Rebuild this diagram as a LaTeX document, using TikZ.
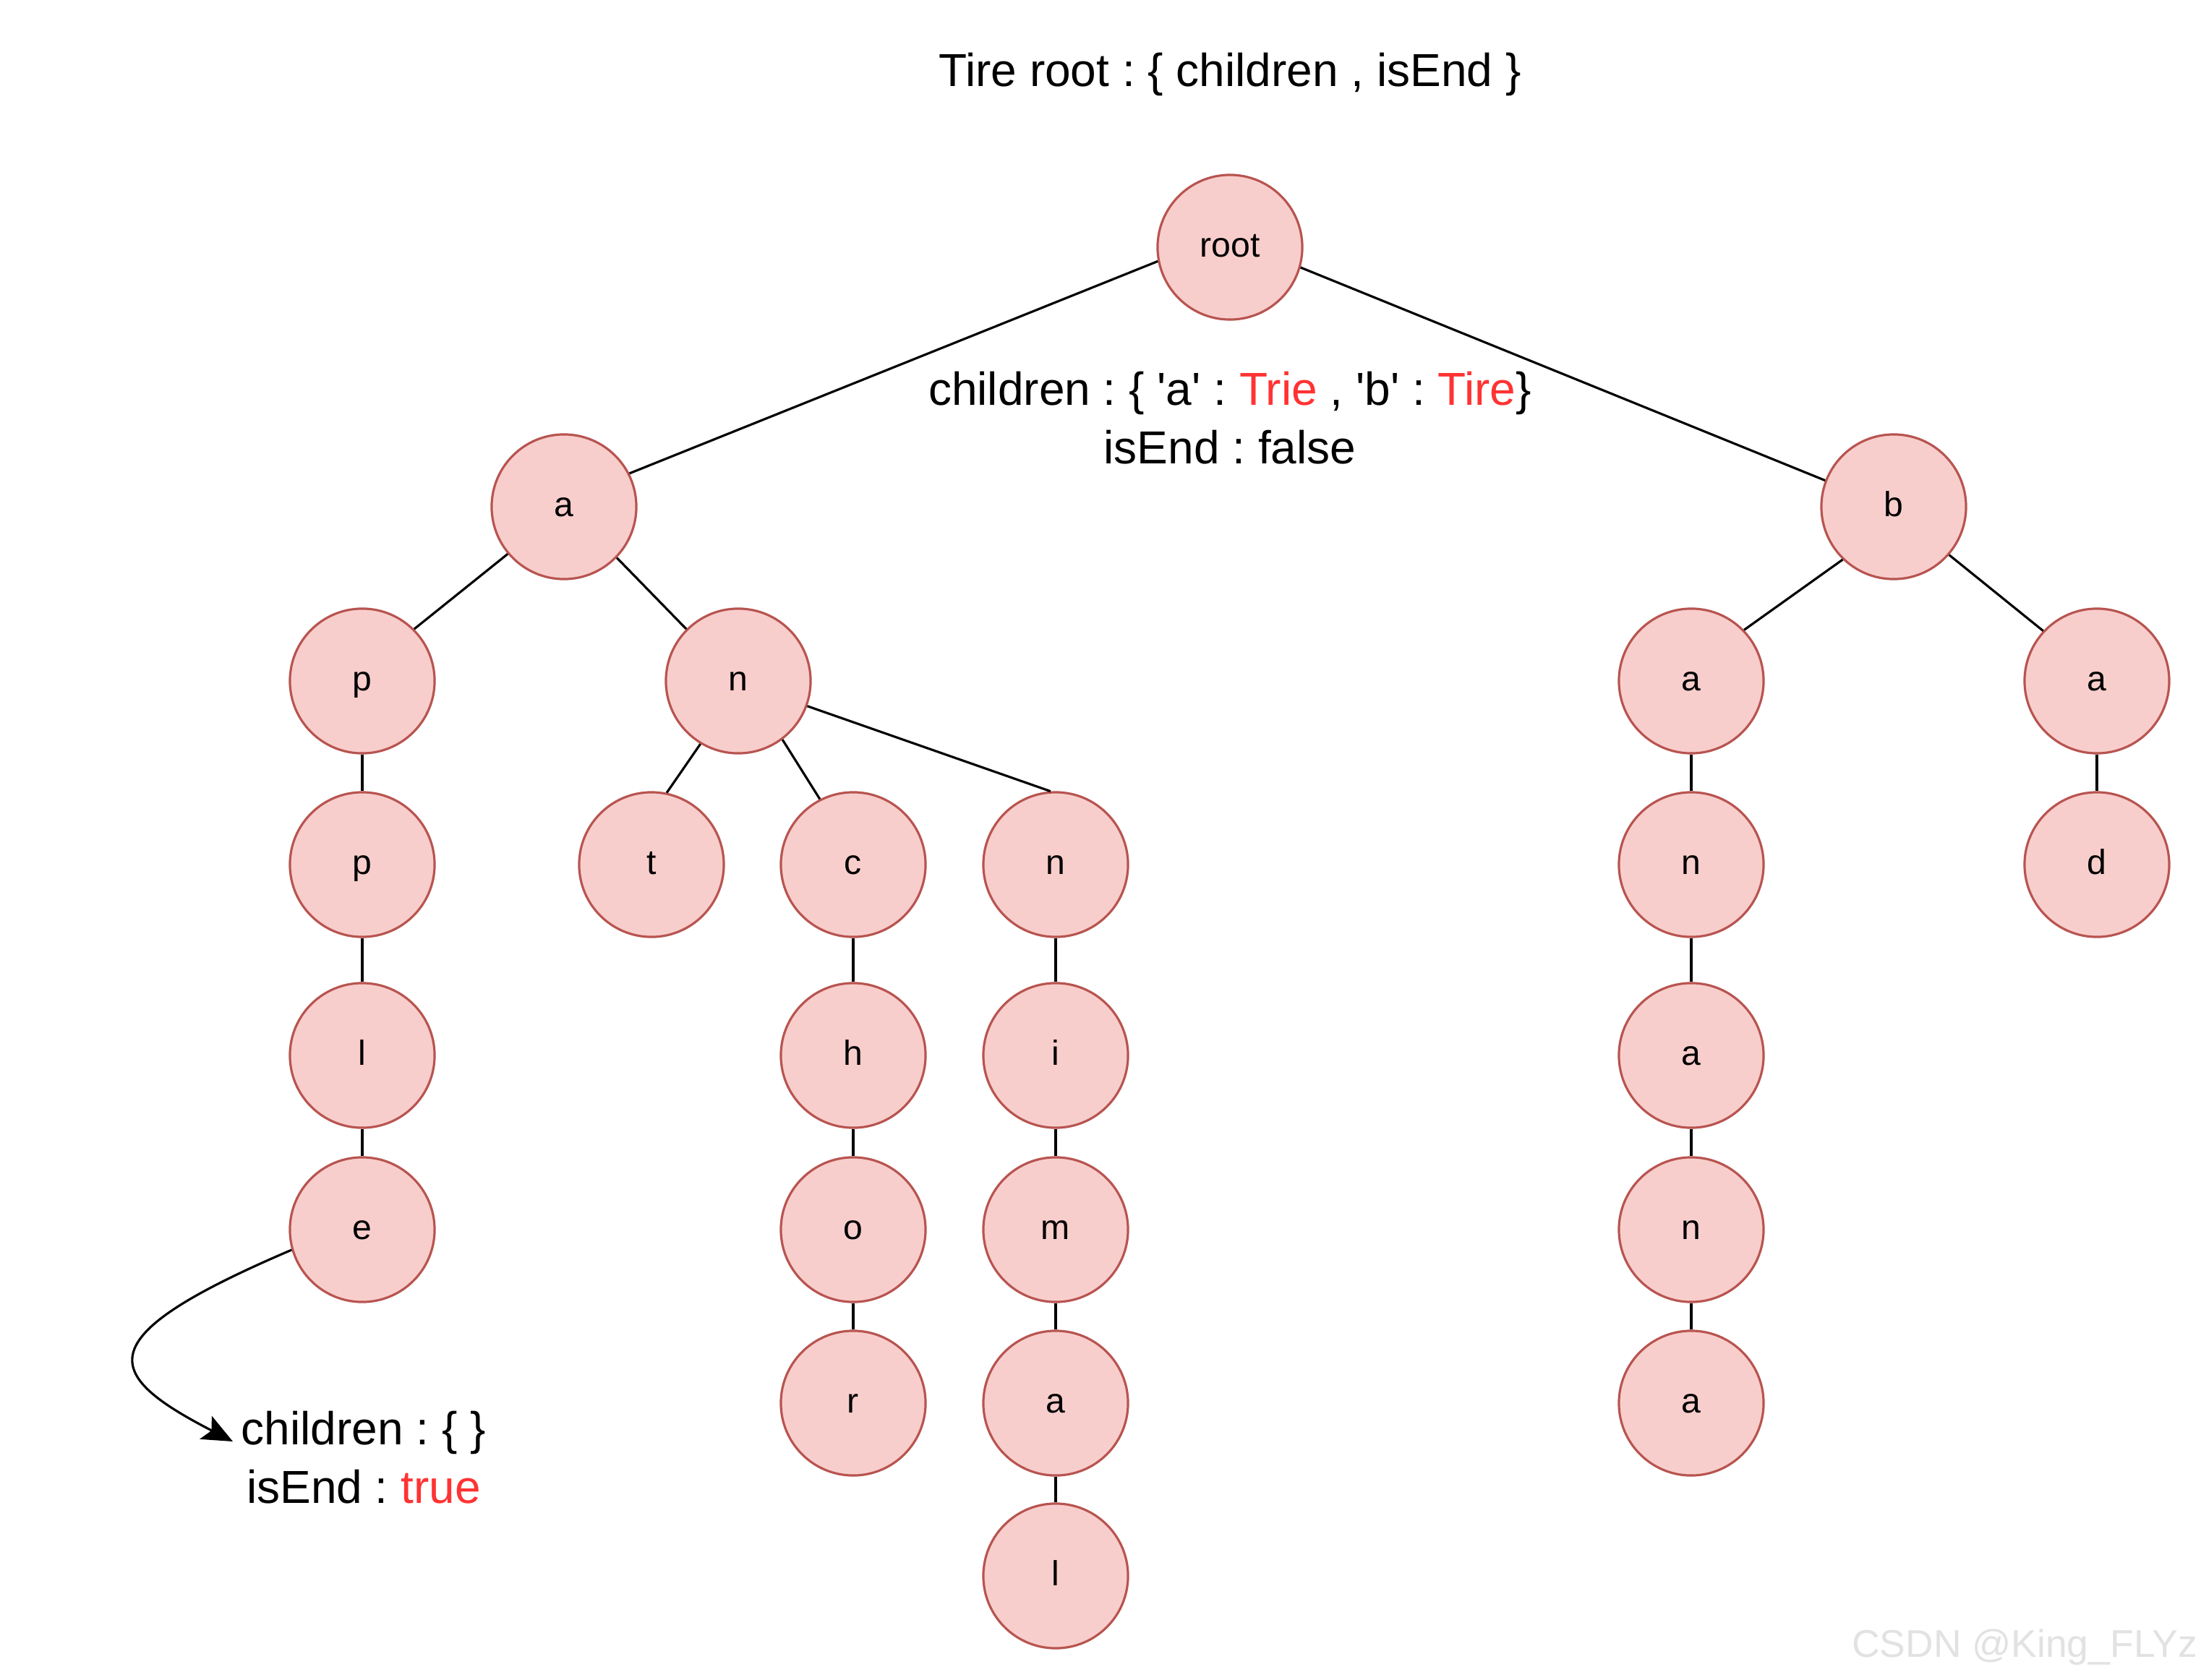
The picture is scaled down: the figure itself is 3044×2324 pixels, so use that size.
\documentclass[tikz,border=0pt]{standalone}
\usepackage{fontspec}
\setmainfont{Liberation Sans}
\usetikzlibrary{arrows.meta}
\definecolor{nodefill}{HTML}{F8CECC}
\definecolor{nodeline}{HTML}{B85450}
\definecolor{hl}{HTML}{FF3333}
\definecolor{wm}{HTML}{E2E2E2}
\frenchspacing
\begin{document}
\frenchspacing
\begin{tikzpicture}[x=0.01cm,y=-0.01cm,
  tnode/.style={circle,draw=nodeline,fill=nodefill,line width=0.9pt,minimum size=2cm,inner sep=0pt,
    font=\fontsize{13.7}{16}\selectfont,text height=0.96em,text depth=0.2em},
  link/.style={line width=0.9pt,draw=black},
  lbl/.style={font=\fontsize{18.2}{22.8}\selectfont,align=center,inner sep=0pt,anchor=base}]
\useasboundingbox (0,0) rectangle (3044,2324);
\fill[white] (0,0) rectangle (3044,2324);

% title
\node[lbl] (title) at (1701,120) {Tire root : \{ children , isEnd \}};

% nodes
\node[tnode] (root) at (1701,342) {root};
\node[tnode] (a) at (780,701) {a};
\node[tnode] (b) at (2619,701) {b};
\node[tnode] (p) at (501,942) {p};
\node[tnode] (n) at (1021,942) {n};
\node[tnode] (ba) at (2339,942) {a};
\node[tnode] (bb) at (2900,942) {a};
\node[tnode] (p2) at (501,1196) {p};
\node[tnode] (t) at (901,1196) {t};
\node[tnode] (c) at (1180,1196) {c};
\node[tnode] (n2) at (1460,1196) {n};
\node[tnode] (ban) at (2339,1196) {n};
\node[tnode] (d) at (2900,1196) {d};
\node[tnode] (l) at (501,1460) {l};
\node[tnode] (h) at (1180,1460) {h};
\node[tnode] (i) at (1460,1460) {i};
\node[tnode] (bana) at (2339,1460) {a};
\node[tnode] (e) at (501,1701) {e};
\node[tnode] (o) at (1180,1701) {o};
\node[tnode] (m) at (1460,1701) {m};
\node[tnode] (banan) at (2339,1701) {n};
\node[tnode] (r) at (1180,1941) {r};
\node[tnode] (ma) at (1460,1941) {a};
\node[tnode] (banana) at (2339,1941) {a};
\node[tnode] (mal) at (1460,2180) {l};

% edges
\draw[link] (root.191.5) -- (a.27);
\draw[link] (root.-16) -- (b.159);
\draw[link] (a.220) -- (p.45);
\draw[link] (a.316) -- (n.135);
\draw[link] (n.239) -- (t.78.5);
\draw[link] (n.307) -- (c.117.6);
\draw[link] (n.340.5) -- (n2.94.6);
\draw[link] (b.226.6) -- (ba.44);
\draw[link] (b.319.5) -- (bb.137);
\draw[link] (p.south) -- (p2.north);
\draw[link] (p2.south) -- (l.north);
\draw[link] (l.south) -- (e.north);
\draw[link] (c.south) -- (h.north);
\draw[link] (h.south) -- (o.north);
\draw[link] (o.south) -- (r.north);
\draw[link] (n2.south) -- (i.north);
\draw[link] (i.south) -- (m.north);
\draw[link] (m.south) -- (ma.north);
\draw[link] (ma.south) -- (mal.north);
\draw[link] (ba.south) -- (ban.north);
\draw[link] (ban.south) -- (bana.north);
\draw[link] (bana.south) -- (banan.north);
\draw[link] (banan.south) -- (banana.north);
\draw[link] (bb.south) -- (d.north);

% root info
\node[lbl] (rootinfo) at (1701,641) {children : \{ \textquotesingle a\textquotesingle{} : \textcolor{hl}{Trie} , \textquotesingle b\textquotesingle{} : \textcolor{hl}{Tire}\}\\isEnd : false};

% leaf info
\node[lbl] (leafinfo) at (503,2079) {children : \{ \}\\isEnd : \textcolor{hl}{true}};
\coordinate (tip) at (322,1994);
\draw[link,-{Stealth[length=0.42cm,width=0.36cm,inset=0.09cm]}] (e.196) .. controls (120,1850) and (140,1900) .. (tip);

% watermark
\node[anchor=base east,text=wm,font=\fontsize{15.2}{18}\selectfont,inner sep=0pt] (wmk) at (3040,2292) {CSDN @King\_FLYz};
\end{tikzpicture}
\end{document}
